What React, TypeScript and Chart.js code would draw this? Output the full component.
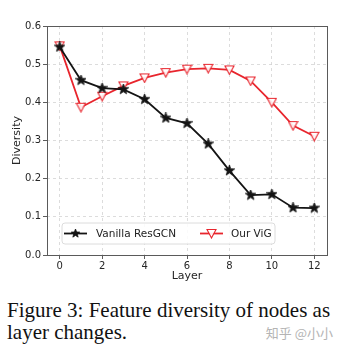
import React, { useEffect, useRef } from "react";
import { Chart, registerables } from "chart.js";

Chart.register(...registerables);

const layers = [0, 1, 2, 3, 4, 5, 6, 7, 8, 9, 10, 11, 12];
const resgcnValues = [0.545, 0.458, 0.437, 0.434, 0.408, 0.359, 0.345, 0.291, 0.221, 0.157, 0.159, 0.124, 0.123];
const vigValues = [0.548, 0.387, 0.416, 0.443, 0.464, 0.478, 0.487, 0.489, 0.485, 0.456, 0.4, 0.339, 0.311];
const xTickValues = [0, 2, 4, 6, 8, 10, 12];
const yTickValues = [0, 0.1, 0.2, 0.3, 0.4, 0.5, 0.6];
const seriesNames = ["Vanilla ResGCN", "Our ViG"];
const xTitle = "Layer";
const yTitle = "Diversity";
const captionLines = ["Figure 3: Feature diversity of nodes as", "layer changes."];
const watermark = "知乎 @小小";

const BLACK = "#141414";
const RED = "#e8252d";

function makeStar(size: number, color: string): HTMLCanvasElement {
  const c = document.createElement("canvas");
  c.width = size;
  c.height = size;
  const ctx = c.getContext("2d")!;
  const cx = size / 2;
  const cy = size / 2;
  const R = size / 2;
  const r = R * 0.42;
  ctx.beginPath();
  for (let i = 0; i < 10; i++) {
    const rad = i % 2 === 0 ? R : r;
    const a = -Math.PI / 2 + (i * Math.PI) / 5;
    const x = cx + rad * Math.cos(a);
    const y = cy + rad * Math.sin(a);
    if (i === 0) ctx.moveTo(x, y);
    else ctx.lineTo(x, y);
  }
  ctx.closePath();
  ctx.fillStyle = color;
  ctx.fill();
  ctx.strokeStyle = color;
  ctx.lineWidth = 0.8;
  ctx.stroke();
  return c;
}

function makeTriangle(size: number, color: string): HTMLCanvasElement {
  const c = document.createElement("canvas");
  c.width = size;
  c.height = size;
  const ctx = c.getContext("2d")!;
  ctx.beginPath();
  ctx.moveTo(1, 1.5);
  ctx.lineTo(size - 1, 1.5);
  ctx.lineTo(size / 2, size - 1);
  ctx.closePath();
  ctx.fillStyle = "rgba(255,255,255,0.9)";
  ctx.fill();
  ctx.strokeStyle = color;
  ctx.lineWidth = 1.1;
  ctx.stroke();
  return c;
}

export default function App() {
  const ref = useRef<HTMLCanvasElement | null>(null);

  useEffect(() => {
    if (!ref.current) return;
    const star = makeStar(11, BLACK);
    const legendStar = makeStar(9, BLACK);
    const tri = makeTriangle(11, RED);

    const framePlugin = {
      id: "frame",
      beforeDatasetsDraw(chart: any) {
        const { ctx, chartArea } = chart;
        ctx.save();
        ctx.strokeStyle = "#5a5a5a";
        ctx.lineWidth = 1;
        ctx.strokeRect(
          Math.round(chartArea.left) + 0.5,
          Math.round(chartArea.top) + 0.5,
          Math.round(chartArea.right - chartArea.left),
          Math.round(chartArea.bottom - chartArea.top)
        );
        ctx.restore();
      },
    };

    const legendPlugin = {
      id: "innerLegend",
      afterDraw(chart: any) {
        const { ctx, chartArea } = chart;
        const x0 = chartArea.left + 15;
        const y0 = chartArea.bottom - 32;
        const w = 213;
        const h = 21;
        ctx.save();
        ctx.beginPath();
        const rr = 3;
        ctx.moveTo(x0 + rr, y0);
        ctx.arcTo(x0 + w, y0, x0 + w, y0 + h, rr);
        ctx.arcTo(x0 + w, y0 + h, x0, y0 + h, rr);
        ctx.arcTo(x0, y0 + h, x0, y0, rr);
        ctx.arcTo(x0, y0, x0 + w, y0, rr);
        ctx.closePath();
        ctx.fillStyle = "rgba(255,255,255,0.85)";
        ctx.fill();
        ctx.strokeStyle = "#dcdcdc";
        ctx.lineWidth = 1;
        ctx.stroke();

        const cy = y0 + h / 2;
        const entries = [
          { name: seriesNames[0], color: BLACK, img: legendStar, lx: x0 + 2, tx: x0 + 34 },
          { name: seriesNames[1], color: RED, img: tri, lx: x0 + 138, tx: x0 + 169 },
        ];
        ctx.font = "10.5px 'DejaVu Sans'";
        ctx.textBaseline = "middle";
        for (const e of entries) {
          ctx.beginPath();
          ctx.moveTo(e.lx, cy);
          ctx.lineTo(e.lx + 23, cy);
          ctx.strokeStyle = e.color;
          ctx.lineWidth = 1.8;
          ctx.stroke();
          ctx.drawImage(e.img, e.lx + 11.5 - e.img.width / 2, cy - e.img.height / 2);
          ctx.fillStyle = "#222";
          ctx.fillText(e.name, e.tx, cy + 0.5);
        }
        ctx.restore();
      },
    };

    const chart = new Chart(ref.current, {
      type: "line",
      data: {
        datasets: [
          {
            label: seriesNames[0],
            data: layers.map((l, i) => ({ x: l, y: resgcnValues[i] })),
            borderColor: BLACK,
            backgroundColor: BLACK,
            borderWidth: 1.8,
            pointStyle: star as any,
            pointRadius: 5,
            tension: 0,
          },
          {
            label: seriesNames[1],
            data: layers.map((l, i) => ({ x: l, y: vigValues[i] })),
            borderColor: RED,
            backgroundColor: RED,
            borderWidth: 1.8,
            pointStyle: tri as any,
            pointRadius: 5,
            tension: 0,
          },
        ],
      },
      options: {
        animation: false,
        responsive: false,
        layout: { padding: { left: 0, right: 18, top: 26, bottom: 5 } },
        plugins: { legend: { display: false }, tooltip: { enabled: false } },
        scales: {
          x: {
            type: "linear",
            min: -0.6,
            max: 12.6,
            afterFit: (s: any) => {
              s.height = 30;
            },
            afterBuildTicks: (s: any) => {
              s.ticks = xTickValues.map((v) => ({ value: v }));
            },
            ticks: {
              font: { family: "'DejaVu Sans'", size: 10 },
              color: "#262626",
              padding: 1,
              maxRotation: 0,
              callback: (v: any) => String(v),
            },
            grid: {
              color: "#d4d4d4",
              lineWidth: 0.8,
              borderDash: [3, 3],
              tickColor: "#333",
              tickLength: 4,
              tickBorderDash: [],
            } as any,
            border: { display: false, dash: [3, 3] } as any,
            title: {
              display: true,
              text: xTitle,
              font: { family: "'DejaVu Sans'", size: 11 },
              color: "#262626",
              padding: { top: 0, bottom: 2 },
            },
          },
          y: {
            type: "linear",
            min: 0,
            max: 0.6,
            afterFit: (s: any) => {
              s.width = 47;
            },
            afterBuildTicks: (s: any) => {
              s.ticks = yTickValues.map((v) => ({ value: v }));
            },
            ticks: {
              font: { family: "'DejaVu Sans'", size: 10 },
              color: "#262626",
              padding: 2,
              callback: (v: any) => Number(v).toFixed(1),
            },
            grid: {
              color: "#d4d4d4",
              lineWidth: 0.8,
              borderDash: [3, 3],
              tickColor: "#333",
              tickLength: 4,
              tickBorderDash: [],
            } as any,
            border: { display: false, dash: [3, 3] } as any,
            title: {
              display: true,
              text: yTitle,
              font: { family: "'DejaVu Sans'", size: 11 },
              color: "#262626",
              padding: { top: 11, bottom: 0 },
            },
          },
        },
      },
      plugins: [framePlugin, legendPlugin],
    } as any);
    return () => chart.destroy();
  }, []);

  return (
    <div
      style={{
        position: "fixed",
        left: 0,
        top: 0,
        width: 345,
        height: 353,
        background: "#fff",
        overflow: "hidden",
      }}
    >
      <canvas ref={ref} width={345} height={290} style={{ display: "block", width: 345, height: 290 }} />
      <div
        style={{
          position: "absolute",
          left: 7,
          top: 299,
          fontFamily: "'Liberation Serif', 'Times New Roman', serif",
          fontSize: 21,
          lineHeight: "22px",
          color: "#111",
          whiteSpace: "nowrap",
        }}
      >
        <div>{captionLines[0]}</div>
        <div>{captionLines[1]}</div>
      </div>
      <div
        style={{
          position: "absolute",
          right: 12,
          top: 323,
          fontFamily: "'Noto Sans CJK SC', sans-serif",
          fontSize: 13,
          color: "#b4b4b4",
          whiteSpace: "nowrap",
        }}
      >
        {watermark}
      </div>
    </div>
  );
}
